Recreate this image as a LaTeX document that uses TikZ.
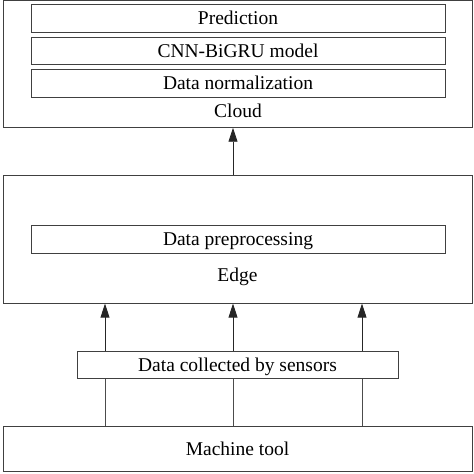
\documentclass[tikz,border=0pt]{standalone}
\usepackage{fontspec}
\setmainfont{Liberation Serif}
\usetikzlibrary{positioning, arrows.meta}

\begin{document}
\begin{tikzpicture}[node distance=47pt,
                    layer/.style={rectangle, draw=black!75, line width=0.9pt, minimum width=469pt, inner sep=0pt, text height=13pt, text depth=0pt, font=\fontsize{19.5}{23}\selectfont},
                    task/.style={rectangle, draw=black!75, line width=0.9pt, minimum width=414pt, minimum height=28pt, inner sep=0pt, text height=13pt, text depth=0pt, font=\fontsize{19.5}{23}\selectfont},
                    tag/.style={inner sep=0pt, text height=13pt, text depth=0pt, font=\fontsize{19.5}{23}\selectfont},
                    flow/.style={-{Triangle[length=14pt, width=9pt]}, line width=0.9pt, draw=black!85},
                    feed/.style={line width=0.9pt, draw=black!70}]

    \useasboundingbox (0,0) rectangle (474pt,474pt);

    % Nodes
    \node[layer, minimum height=45pt] (machine) at (237.5pt,25.5pt) {Machine tool};
    \node[task, above=47pt of machine, minimum width=321pt, minimum height=27pt] (sensors) {Data collected by sensors};
    \node[layer, above=47pt of sensors, minimum height=128pt] (edge) {};
    \node[layer, above=47pt of edge, minimum height=127pt] (cloud) {};

    \node[task, below=50pt of edge.north, xshift=0.5pt] (prep) {Data preprocessing};
    \node[tag, above=22pt of edge.south] (edgetag) {Edge};

    \node[task, below=4pt of cloud.north, xshift=0.5pt] (predict) {Prediction};
    \node[task, below=4pt of predict, minimum height=27pt] (model) {CNN-BiGRU model};
    \node[task, below=4pt of model] (norm) {Data normalization};
    \node[tag, below=7pt of norm] (cloudtag) {Cloud};

    % Paths
    \draw[flow] ([xshift=-4.5pt]edge.north) -- ([xshift=-4.5pt]cloud.south);
    \draw[flow] ([xshift=-132.5pt]sensors.north) -- ([xshift=-132.5pt]edge.south);
    \draw[flow] ([xshift=-4.5pt]sensors.north) -- ([xshift=-4.5pt]edge.south);
    \draw[flow] ([xshift=124.5pt]sensors.north) -- ([xshift=124.5pt]edge.south);
    \draw[feed] ([xshift=-132.5pt]machine.north) -- ([xshift=-132.5pt]sensors.south);
    \draw[feed] ([xshift=-4.5pt]machine.north) -- ([xshift=-4.5pt]sensors.south);
    \draw[feed] ([xshift=124.5pt]machine.north) -- ([xshift=124.5pt]sensors.south);

\end{tikzpicture}
\end{document}
